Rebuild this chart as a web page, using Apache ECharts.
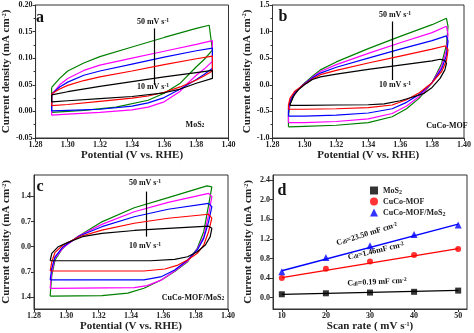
<!DOCTYPE html>
<html><head><meta charset="utf-8">
<script src="https://cdn.jsdelivr.net/npm/echarts@6/dist/echarts.min.js"></script>
<style>html,body{margin:0;padding:0;background:#fff}#chart{width:474px;height:333px}</style>
</head><body><div id="chart"></div>
<script>
const FONT = 'Liberation Serif';
const loopColors = ['#000000', '#ff0000', '#0000ff', '#ff00ff', '#008000'];

// (a) MoS2 CV loops at 10..50 mV/s : [potential V vs RHE, current mA cm-2]
const mos2_10 = [[1.29,0.031],[1.30,0.037],[1.32,0.047],[1.34,0.056],[1.36,0.065],[1.38,0.073],[1.39,0.077],[1.39,0.062],[1.38,0.053],[1.37,0.042],[1.36,0.035],[1.34,0.028],[1.32,0.024],[1.30,0.020],[1.29,0.018],[1.29,0.031]];
const mos2_20 = [[1.29,0.033],[1.295,0.042],[1.30,0.049],[1.31,0.058],[1.32,0.065],[1.34,0.076],[1.36,0.088],[1.38,0.099],[1.39,0.104],[1.39,0.076],[1.385,0.067],[1.38,0.059],[1.37,0.046],[1.36,0.036],[1.35,0.029],[1.34,0.025],[1.32,0.019],[1.30,0.013],[1.29,0.011],[1.29,0.033]];
const mos2_30 = [[1.29,0.033],[1.295,0.046],[1.30,0.055],[1.31,0.068],[1.32,0.076],[1.34,0.089],[1.36,0.102],[1.38,0.114],[1.39,0.119],[1.39,0.081],[1.385,0.070],[1.38,0.060],[1.37,0.042],[1.36,0.026],[1.35,0.016],[1.34,0.010],[1.32,0.004],[1.30,0.002],[1.29,0.001],[1.29,0.033]];
const mos2_40 = [[1.29,0.031],[1.295,0.050],[1.30,0.062],[1.31,0.077],[1.32,0.087],[1.34,0.100],[1.36,0.113],[1.38,0.126],[1.39,0.133],[1.39,0.094],[1.385,0.080],[1.38,0.068],[1.375,0.054],[1.37,0.038],[1.36,0.018],[1.35,0.008],[1.34,0.003],[1.32,-0.002],[1.30,-0.005],[1.29,-0.007],[1.29,0.031]];
const mos2_50 = [[1.29,0.045],[1.295,0.062],[1.30,0.076],[1.31,0.091],[1.32,0.103],[1.34,0.121],[1.36,0.139],[1.38,0.156],[1.388,0.162],[1.39,0.115],[1.385,0.098],[1.38,0.084],[1.37,0.053],[1.36,0.034],[1.35,0.021],[1.33,0.008],[1.31,0.002],[1.29,-0.002],[1.29,0.045]];

// (b) CuCo-MOF CV loops
const mof_10 = [[1.291,-0.37],[1.293,-0.22],[1.296,-0.10],[1.30,0.0],[1.305,0.10],[1.31,0.15],[1.32,0.20],[1.34,0.29],[1.36,0.37],[1.38,0.45],[1.385,0.48],[1.388,0.46],[1.389,0.40],[1.388,0.28],[1.385,0.12],[1.38,-0.05],[1.375,-0.16],[1.368,-0.23],[1.36,-0.30],[1.35,-0.36],[1.34,-0.375],[1.32,-0.38],[1.30,-0.385],[1.291,-0.385],[1.291,-0.37]];
const mof_20 = [[1.29,-0.46],[1.29,-0.38],[1.291,-0.25],[1.294,-0.12],[1.298,-0.03],[1.30,0.01],[1.305,0.11],[1.31,0.19],[1.32,0.27],[1.34,0.41],[1.36,0.54],[1.38,0.67],[1.388,0.73],[1.39,0.66],[1.389,0.45],[1.386,0.25],[1.38,0.04],[1.372,-0.15],[1.364,-0.28],[1.355,-0.38],[1.34,-0.43],[1.32,-0.45],[1.30,-0.46],[1.29,-0.46]];
const mof_30 = [[1.29,-0.59],[1.29,-0.45],[1.291,-0.30],[1.294,-0.14],[1.298,-0.03],[1.30,0.02],[1.305,0.13],[1.31,0.22],[1.32,0.33],[1.34,0.50],[1.36,0.67],[1.38,0.83],[1.389,0.92],[1.39,0.82],[1.389,0.55],[1.386,0.30],[1.38,0.04],[1.372,-0.18],[1.364,-0.33],[1.355,-0.45],[1.34,-0.53],[1.32,-0.57],[1.30,-0.59],[1.29,-0.59]];
const mof_40 = [[1.29,-0.71],[1.29,-0.52],[1.291,-0.34],[1.294,-0.16],[1.298,-0.03],[1.30,0.02],[1.305,0.14],[1.31,0.25],[1.32,0.38],[1.34,0.59],[1.36,0.79],[1.38,0.98],[1.389,1.10],[1.39,0.95],[1.389,0.65],[1.386,0.35],[1.38,0.04],[1.372,-0.22],[1.364,-0.40],[1.355,-0.54],[1.34,-0.64],[1.32,-0.69],[1.30,-0.71],[1.29,-0.71]];
const mof_50 = [[1.29,-0.79],[1.29,-0.58],[1.291,-0.36],[1.294,-0.17],[1.298,-0.03],[1.30,0.03],[1.305,0.16],[1.31,0.28],[1.32,0.43],[1.34,0.68],[1.36,0.91],[1.38,1.13],[1.389,1.25],[1.39,1.10],[1.389,0.75],[1.386,0.40],[1.38,0.04],[1.372,-0.25],[1.364,-0.45],[1.355,-0.60],[1.34,-0.71],[1.32,-0.76],[1.30,-0.78],[1.29,-0.79]];

// (c) CuCo-MOF/MoS2 CV loops
const comp_10 = [[1.29,-0.39],[1.291,-0.185],[1.295,0.0],[1.301,0.12],[1.31,0.277],[1.322,0.37],[1.342,0.45],[1.363,0.51],[1.388,0.57],[1.39,0.51],[1.389,0.28],[1.386,0.046],[1.381,-0.14],[1.375,-0.28],[1.367,-0.35],[1.352,-0.39],[1.291,-0.39],[1.29,-0.39]];
const comp_20 = [[1.29,-0.675],[1.291,-0.42],[1.293,-0.157],[1.298,0.046],[1.308,0.277],[1.322,0.46],[1.342,0.65],[1.363,0.79],[1.388,0.90],[1.39,0.79],[1.388,0.416],[1.385,0.046],[1.381,-0.185],[1.375,-0.37],[1.369,-0.51],[1.361,-0.62],[1.348,-0.675],[1.291,-0.675],[1.29,-0.675]];
const comp_30 = [[1.29,-0.92],[1.291,-0.60],[1.293,-0.28],[1.298,0.0],[1.308,0.296],[1.322,0.555],[1.342,0.83],[1.363,1.04],[1.388,1.20],[1.39,1.11],[1.388,0.69],[1.385,0.23],[1.381,-0.09],[1.375,-0.37],[1.367,-0.647],[1.359,-0.83],[1.348,-0.92],[1.291,-0.92],[1.29,-0.92]];
const comp_40 = [[1.29,-1.155],[1.291,-0.69],[1.293,-0.32],[1.298,-0.03],[1.308,0.305],[1.322,0.62],[1.342,0.97],[1.363,1.23],[1.388,1.48],[1.39,1.39],[1.388,0.88],[1.385,0.277],[1.381,-0.065],[1.375,-0.40],[1.367,-0.675],[1.359,-0.92],[1.350,-1.08],[1.342,-1.137],[1.291,-1.155],[1.29,-1.155]];
const comp_50 = [[1.29,-1.37],[1.291,-0.79],[1.293,-0.37],[1.297,-0.09],[1.301,0.09],[1.308,0.305],[1.322,0.69],[1.342,1.08],[1.363,1.36],[1.387,1.69],[1.39,1.66],[1.388,1.155],[1.385,0.416],[1.381,-0.046],[1.375,-0.416],[1.367,-0.69],[1.359,-0.92],[1.348,-1.155],[1.338,-1.29],[1.322,-1.36],[1.291,-1.37],[1.29,-1.37]];

// (d) current density difference vs scan rate
const scanRates = [10, 20, 30, 40, 50];
const mos2Current = [0.07, 0.09, 0.105, 0.12, 0.145];
const mofCurrent = [0.40, 0.59, 0.74, 0.87, 0.99];
const compCurrent = [0.53, 0.82, 1.06, 1.29, 1.48];
const fitRates = [10, 50];
const mos2Fit = [0.068, 0.15];
const mofFit = [0.41, 1.00];
const compFit = [0.55, 1.50];

const cvTicks = [1.28, 1.30, 1.32, 1.34, 1.36, 1.38, 1.40];
const cTicks = [-1.4, -0.7, 0.0, 0.7, 1.4];
const dTicks = [0.0, 0.4, 0.8, 1.2, 1.6, 2.0, 2.4];

const txt = {fontFamily: FONT, fontWeight: 'bold', color: '#222'};
const supRich = {
  sup: {fontFamily: FONT, fontWeight: 'bold', fontSize: 6, verticalAlign: 'top', color: '#222'},
  sub: {fontFamily: FONT, fontWeight: 'bold', fontSize: 6, verticalAlign: 'bottom', color: '#222'},
};

const grids = [
  {left: 31.5, top: 5, width: 197, height: 133},
  {left: 272.5, top: 5, width: 194, height: 133},
  {left: 32, top: 175, width: 196, height: 134},
  {left: 273, top: 175, width: 194, height: 134},
].map(g => Object.assign({show: true, borderColor: '#333', borderWidth: 1, containLabel: false}, g));

function baseAxis(gi) {
  return {
    gridIndex: gi,
    axisLine: {show: true, onZero: false, lineStyle: {color: '#333', width: 1}},
    axisTick: {show: true, inside: false, length: 3, lineStyle: {color: '#333'}},
    splitLine: {show: false},
    axisLabel: Object.assign({fontSize: 8, margin: 3}, txt),
    nameLocation: 'middle',
    nameTextStyle: Object.assign({fontSize: 11, rich: Object.assign({
      n: {fontFamily: FONT, fontWeight: 'bold', fontSize: 11, color: '#222'}
    }, supRich)}, txt),
  };
}

function cvX(gi) {
  return Object.assign(baseAxis(gi), {
    type: 'value', min: 1.28, max: 1.40,
    axisLabel: Object.assign(baseAxis(gi).axisLabel, {customValues: cvTicks, formatter: v => v.toFixed(2)}),
    axisTick: Object.assign(baseAxis(gi).axisTick, {customValues: cvTicks}),
    name: 'Potential (V vs. RHE)', nameGap: 12,
  });
}
const yName = '{n|Current density (mA cm}{sup|-2}{n|)}';

const xAxes = [cvX(0), cvX(1), cvX(2),
  Object.assign(baseAxis(3), {
    type: 'value', min: 8, max: 52,
    axisLabel: Object.assign(baseAxis(3).axisLabel, {customValues: scanRates}),
    axisTick: Object.assign(baseAxis(3).axisTick, {customValues: scanRates}),
    name: '{n|Scan rate ( mV s}{sup|-1}{n|)}', nameGap: 12,
  })];

const yAxes = [
  Object.assign(baseAxis(0), {type: 'value', min: -0.05, max: 0.20, interval: 0.05,
    minorTick: {show: true, splitNumber: 2, length: 2, lineStyle: {color: '#333'}},
    axisLabel: Object.assign(baseAxis(0).axisLabel, {formatter: v => v.toFixed(2)}),
    name: yName, nameGap: 22}),
  Object.assign(baseAxis(1), {type: 'value', min: -1.0, max: 1.5, interval: 0.5,
    minorTick: {show: true, splitNumber: 2, length: 2, lineStyle: {color: '#333'}},
    axisLabel: Object.assign(baseAxis(1).axisLabel, {formatter: v => v.toFixed(1)}),
    name: yName, nameGap: 19}),
  Object.assign(baseAxis(2), {type: 'value', min: -1.73, max: 1.99,
    axisLabel: Object.assign(baseAxis(2).axisLabel, {customValues: cTicks, formatter: v => Math.abs(v).toFixed(1)}),
    axisTick: Object.assign(baseAxis(2).axisTick, {customValues: cTicks}),
    name: yName, nameGap: 22}),
  Object.assign(baseAxis(3), {type: 'value', min: -0.23, max: 2.5,
    axisLabel: Object.assign(baseAxis(3).axisLabel, {customValues: dTicks, formatter: v => v.toFixed(1)}),
    axisTick: Object.assign(baseAxis(3).axisTick, {customValues: dTicks}),
    name: yName, nameGap: 19}),
];

function loop(data, k, gi) {
  return {type: 'line', xAxisIndex: gi, yAxisIndex: gi, data: data, symbol: 'none', showSymbol: false,
    lineStyle: {color: loopColors[k], width: 1.2}, silent: true, animation: false, z: 2 + (4 - k)};
}
function arrow(gi, x, y0, y1) {
  return {type: 'line', xAxisIndex: gi, yAxisIndex: gi, data: [], silent: true, animation: false,
    markLine: {silent: true, animation: false, symbol: ['none', 'arrow'], symbolSize: [0, 7],
      label: {show: false}, lineStyle: {color: '#000', width: 1.2, type: 'solid'},
      data: [[{coord: [x, y0]}, {coord: [x, y1]}]]}};
}

const series = [];
[mos2_10, mos2_20, mos2_30, mos2_40, mos2_50].forEach((d, k) => series.push(loop(d, k, 0)));
[mof_10, mof_20, mof_30, mof_40, mof_50].forEach((d, k) => series.push(loop(d, k, 1)));
[comp_10, comp_20, comp_30, comp_40, comp_50].forEach((d, k) => series.push(loop(d, k, 2)));
series.push(arrow(0, 1.354, 0.05, 0.156));
series.push(arrow(1, 1.355, 0.09, 1.19));
series.push(arrow(2, 1.3494, 0.28, 1.53));

const pair = (xs, ys) => xs.map((x, i) => [x, ys[i]]);
const dSets = [
  {name: 'MoS2', color: '#000000', symbol: 'rect', size: 6, pts: mos2Current, fit: mos2Fit},
  {name: 'CuCo-MOF', color: '#ff0000', symbol: 'circle', size: 6, pts: mofCurrent, fit: mofFit},
  {name: 'CuCo-MOF/MoS2', color: '#0000ff', symbol: 'triangle', size: 7, pts: compCurrent, fit: compFit},
];
dSets.forEach(s => {
  series.push({type: 'line', xAxisIndex: 3, yAxisIndex: 3, name: s.name + ' fit', data: pair(fitRates, s.fit),
    symbol: 'none', lineStyle: {color: s.color, width: 1.4}, silent: true, animation: false});
  series.push({type: 'scatter', xAxisIndex: 3, yAxisIndex: 3, name: s.name, data: pair(scanRates, s.pts),
    symbol: s.symbol, symbolSize: s.size, itemStyle: {color: s.color}, silent: true, animation: false, z: 5});
});

function label(x, y, text, size, extra) {
  return Object.assign({type: 'text', x: x, y: y, silent: true,
    style: {text: text, fontFamily: FONT, fontWeight: 'bold', fontSize: size, fill: '#111',
      align: 'center', verticalAlign: 'middle',
      rich: {
        n: {fontFamily: FONT, fontWeight: 'bold', fontSize: size, fill: '#111'},
        sup: {fontFamily: FONT, fontWeight: 'bold', fontSize: size * 0.7, fill: '#111', verticalAlign: 'top'},
        sub: {fontFamily: FONT, fontWeight: 'bold', fontSize: size * 0.7, fill: '#111', verticalAlign: 'bottom'},
      }}}, extra || {});
}
const rate50 = '{n|50 mV s}{sup|-1}';
const rate10 = '{n|10 mV s}{sup|-1}';
const graphics = [
  label(40, 18, 'a', 16), label(283, 17, 'b', 16), label(40, 187, 'c', 16), label(282, 191, 'd', 16),
  label(153, 22, rate50, 8), label(153, 87, rate10, 8),
  label(395, 15, rate50, 8), label(395, 85, rate10, 8),
  label(145, 183, rate50, 8), label(145, 246, rate10, 8),
  label(195, 125, '{n|MoS}{sub|2}', 8),
  label(447, 126, 'CuCo-MOF', 8),
  label(193, 298, '{n|CuCo-MOF/MoS}{sub|2}', 8),
  label(367, 234, '{n|C}{sub|dl}{n|=23.50 mF cm}{sup|-2}', 8, {rotation: 0.30}),
  label(376, 251, '{n|C}{sub|dl}{n|=1.46mF cm}{sup|-2}', 8, {rotation: 0.23}),
  label(377, 282, '{n|C}{sub|dl}{n|=0.19 mF cm}{sup|-2}', 8, {rotation: 0.05}),
];

const chart = echarts.init(document.getElementById('chart'), null, {renderer: 'canvas'});
chart.setOption({
  animation: false,
  backgroundColor: '#ffffff',
  grid: grids,
  xAxis: xAxes,
  yAxis: yAxes,
  legend: {
    data: ['MoS2', 'CuCo-MOF', 'CuCo-MOF/MoS2'], orient: 'vertical', left: 365, top: 181,
    itemWidth: 8, itemHeight: 8, itemGap: 2, selectedMode: false,
    textStyle: Object.assign({fontSize: 8, lineHeight: 9, rich: {
      n: {fontFamily: FONT, fontWeight: 'bold', fontSize: 8, color: '#222'},
      sub: {fontFamily: FONT, fontWeight: 'bold', fontSize: 6, color: '#222', verticalAlign: 'bottom'}}}, txt),
    formatter: name => name.endsWith('MoS2') ? '{n|' + name.slice(0, -1) + '}{sub|2}' : '{n|' + name + '}',
  },
  series: series,
  graphic: graphics,
});
</script></body></html>
